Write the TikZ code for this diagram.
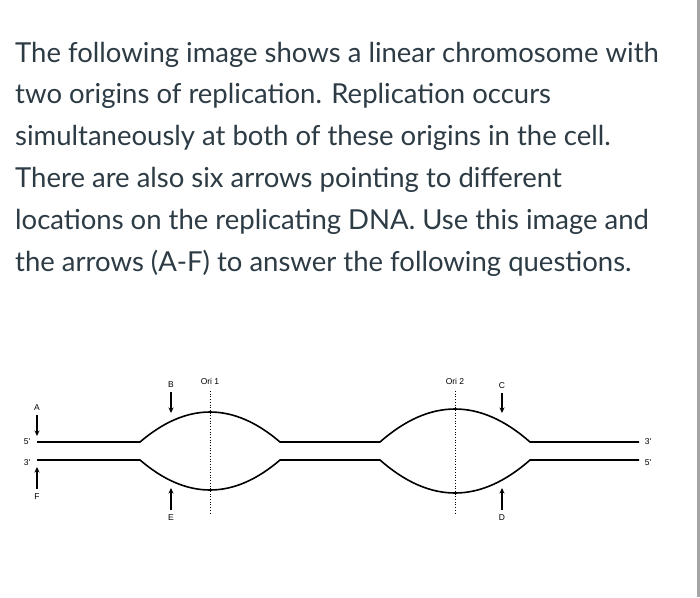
\documentclass[tikz,border=0pt]{standalone}
\usepackage{fontspec}
\setmainfont{Lato}
\newfontfamily\labfont{Liberation Sans}
\usetikzlibrary{arrows.meta}
\definecolor{txt}{RGB}{45,59,69}
\definecolor{edge}{RGB}{165,165,165}
\tikzset{
  para/.style={anchor=base west, inner sep=0pt, text=txt, font=\fontsize{27.5}{32}\selectfont},
  lab/.style={inner sep=0pt, font=\labfont\fontsize{8.5}{9}\selectfont},
  strand/.style={line width=1.6pt, line join=miter},
  ptr/.style={line width=1.5pt, -{Stealth[length=5.5pt,width=5pt]}},
  oriline/.style={line width=0.7pt, dotted}
}
\begin{document}
\begin{tikzpicture}[x=1pt,y=-1pt]
\useasboundingbox[fill=white] (0,0) rectangle (700,597);
\fill[edge] (697,0) rectangle (700,597);
% paragraph
\node[para] (l1) at (15,62) {The following image shows a linear chromosome with};
\node[para] (l2) at (15,103) {two origins of replication. Replication occurs};
\node[para] (l3) at (15,145) {simultaneously at both of these origins in the cell.};
\node[para] (l4) at (15,187) {There are also six arrows pointing to different};
\node[para] (l5) at (15,229) {locations on the replicating DNA. Use this image and};
\node[para] (l6) at (15,271) {the arrows (A-F) to answer the following questions.};
% strands
\draw[strand] (37,442) -- (140,442) .. controls (186.7,402) and (233.3,402) .. (280,442)
  -- (380,442) .. controls (430,398) and (480,398) .. (530,442) -- (639,442);
\draw[strand] (37,460) -- (140,460) .. controls (186.7,500) and (233.3,500) .. (280,460)
  -- (380,460) .. controls (430,504) and (480,504) .. (530,460) -- (639,460);
% origins
\draw[oriline] (210,391) -- (210,515);
\draw[oriline] (455,391) -- (455,515);
\node[lab] (o1) at (210,381) {Ori 1};
\node[lab] (o2) at (455,381) {Ori 2};
% end labels
\node[lab] (p5l) at (27,442) {5'};
\node[lab] (p3l) at (27,463) {3'};
\node[lab] (p3r) at (648,442) {3'};
\node[lab] (p5r) at (648,463) {5'};
% arrows
\node[lab] (A) at (37,408) {A};
\coordinate (Ae) at (37,436);
\draw[ptr] (A.south) ++(0,4) -- (Ae);
\node[lab] (B) at (171,385) {B};
\coordinate (Be) at (171,413);
\draw[ptr] (B.south) ++(0,4) -- (Be);
\node[lab] (C) at (502,386) {C};
\coordinate (Ce) at (502,413);
\draw[ptr] (C.south) ++(0,4) -- (Ce);
\node[lab] (F) at (37,497) {F};
\coordinate (Fe) at (37,467);
\draw[ptr] (F.north) ++(0,-5) -- (Fe);
\node[lab] (E) at (171,518) {E};
\coordinate (Ee) at (171,488);
\draw[ptr] (E.north) ++(0,-5) -- (Ee);
\node[lab] (D) at (502,518) {D};
\coordinate (De) at (502,488);
\draw[ptr] (D.north) ++(0,-5) -- (De);
\end{tikzpicture}
\end{document}
